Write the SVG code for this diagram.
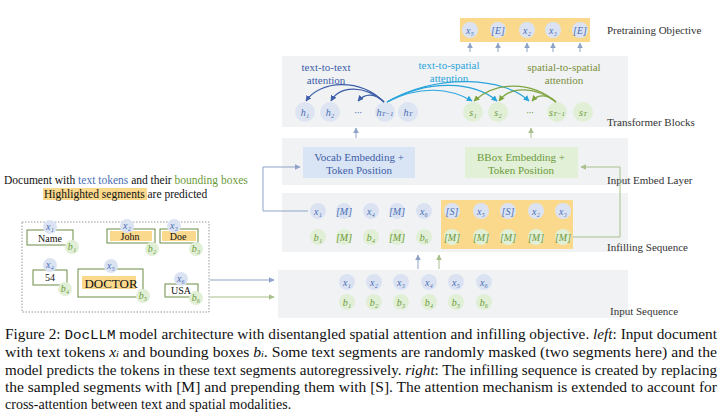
<svg xmlns="http://www.w3.org/2000/svg" width="720" height="415" viewBox="0 0 720 415" font-family="'Liberation Serif', 'Times New Roman', serif">
<style>
text{font-family:'Liberation Serif','Times New Roman',serif;}
.p{fill:#f1f2f4}
.lb{font-size:11px;fill:#333}
.t{font-size:10px;fill:#4a6fb5;font-style:italic;text-anchor:middle}
.g{font-size:10px;fill:#6c9a3a;font-style:italic;text-anchor:middle}
.cb{fill:#dbe3f3}
.cg{fill:#e1efd6}
.bx{fill:#fff;stroke:#6f8c45;stroke-width:1}
.cap{font-size:14px;fill:#111}
</style>
<defs>
<marker id="ab" viewBox="0 0 10 10" refX="9" refY="5" markerWidth="6" markerHeight="6" orient="auto"><path d="M0,0L10,5L0,10z" fill="#8fa3c8"/></marker>
<marker id="ag" viewBox="0 0 10 10" refX="9" refY="5" markerWidth="6" markerHeight="6" orient="auto"><path d="M0,0L10,5L0,10z" fill="#a9bf8c"/></marker>
<marker id="ad" viewBox="0 0 10 10" refX="9" refY="5" markerWidth="5" markerHeight="5" orient="auto"><path d="M0,0L10,5L0,10z" fill="#3e5fa8"/></marker>
<marker id="ac" viewBox="0 0 10 10" refX="9" refY="5" markerWidth="5" markerHeight="5" orient="auto"><path d="M0,0L10,5L0,10z" fill="#2aa5dc"/></marker>
<marker id="ao" viewBox="0 0 10 10" refX="9" refY="5" markerWidth="5" markerHeight="5" orient="auto"><path d="M0,0L10,5L0,10z" fill="#7fa541"/></marker>
</defs>
<rect width="720" height="415" fill="#fff"/>

<g id="panels">
<rect class="p" x="282" y="56" width="346" height="71"/>
<rect class="p" x="282" y="138" width="346" height="47"/>
<rect class="p" x="282" y="193" width="346" height="59"/>
<rect class="p" x="278" y="270" width="350" height="48"/>
<text class="lb" x="607" y="34">Pretraining Objective</text>
<text class="lb" x="607" y="126">Transformer Blocks</text>
<text class="lb" x="607" y="184">Input Embed Layer</text>
<text class="lb" x="607" y="251">Infilling Sequence</text>
<text class="lb" x="610" y="315">Input Sequence</text>
</g>

<g id="pretrain">
<rect x="460" y="18" width="130" height="24" fill="#fbd98c"/>
<circle class="cb" cx="470" cy="30" r="8"/><circle class="cb" cx="498" cy="30" r="8"/><circle class="cb" cx="527" cy="30" r="8"/><circle class="cb" cx="553" cy="30" r="8"/><circle class="cb" cx="580" cy="30" r="8"/>
<text class="t" x="470" y="34">x₅</text><text class="t" x="498" y="34">[E]</text><text class="t" x="527" y="34">x₂</text><text class="t" x="553" y="34">x₃</text><text class="t" x="580" y="34">[E]</text>
</g>

<g id="transformer">
<g fill="#dde4f2"><circle cx="305" cy="112" r="10"/><circle cx="330" cy="112" r="10"/><circle cx="385" cy="112" r="10"/><circle cx="408" cy="112" r="10"/></g>
<g fill="#e1efd6"><circle cx="473" cy="112" r="10"/><circle cx="498" cy="112" r="10"/><circle cx="557" cy="112" r="10"/><circle cx="583" cy="112" r="10"/></g>
<text class="t" x="305" y="116">h₁</text><text class="t" x="330" y="116">h₂</text><text class="t" x="358" y="116">···</text><text class="t" x="385" y="116">h<tspan font-size="7">T−1</tspan></text><text class="t" x="408" y="116">h<tspan font-size="7">T</tspan></text>
<text class="g" x="473" y="116">s₁</text><text class="g" x="498" y="116">s₂</text><text class="g" x="530" y="116">···</text><text class="g" x="557" y="116">s<tspan font-size="7">T−1</tspan></text><text class="g" x="583" y="116">s<tspan font-size="7">T</tspan></text>
<text x="326" y="71" font-size="11" fill="#3e5fa8" text-anchor="middle">text-to-text</text>
<text x="326" y="84" font-size="11" fill="#3e5fa8" text-anchor="middle">attention</text>
<text x="449" y="69" font-size="11" fill="#2aa5dc" text-anchor="middle">text-to-spatial</text>
<text x="449" y="82" font-size="11" fill="#2aa5dc" text-anchor="middle">attention</text>
<text x="564" y="71" font-size="11" fill="#7a8f3c" text-anchor="middle">spatial-to-spatial</text>
<text x="564" y="84" font-size="11" fill="#7a8f3c" text-anchor="middle">attention</text>
</g>

<g id="embed">
<rect x="303" y="147" width="112" height="31" fill="#d9e4f4"/>
<text x="359" y="161" font-size="11" fill="#3e5fa8" text-anchor="middle">Vocab Embedding +</text>
<text x="359" y="174" font-size="11" fill="#3e5fa8" text-anchor="middle">Token Position</text>
<rect x="465" y="147" width="113" height="31" fill="#e2f0d8"/>
<text x="521" y="161" font-size="11" fill="#6c9a3a" text-anchor="middle">BBox Embedding +</text>
<text x="521" y="174" font-size="11" fill="#6c9a3a" text-anchor="middle">Token Position</text>
</g>

<g id="infilling">
<rect x="441" y="200" width="132" height="49" fill="#fbd98c"/>
<g class="cb"><circle cx="318" cy="211" r="8"/><circle cx="344" cy="211" r="8"/><circle cx="371" cy="211" r="8"/><circle cx="397" cy="211" r="8"/><circle cx="424" cy="211" r="8"/><circle cx="452" cy="211" r="8"/><circle cx="481" cy="211" r="8"/><circle cx="508" cy="211" r="8"/><circle cx="536" cy="211" r="8"/><circle cx="563" cy="211" r="8"/></g>
<g class="cg"><circle cx="318" cy="237" r="8"/><circle cx="344" cy="237" r="8"/><circle cx="371" cy="237" r="8"/><circle cx="397" cy="237" r="8"/><circle cx="424" cy="237" r="8"/><circle cx="452" cy="237" r="8"/><circle cx="481" cy="237" r="8"/><circle cx="508" cy="237" r="8"/><circle cx="536" cy="237" r="8"/><circle cx="563" cy="237" r="8"/></g>
<text class="t" x="318" y="215">x₁</text><text class="t" x="344" y="215">[M]</text><text class="t" x="371" y="215">x₄</text><text class="t" x="397" y="215">[M]</text><text class="t" x="424" y="215">x₆</text><text class="t" x="452" y="215">[S]</text><text class="t" x="481" y="215">x₅</text><text class="t" x="508" y="215">[S]</text><text class="t" x="536" y="215">x₂</text><text class="t" x="563" y="215">x₃</text>
<text class="g" x="318" y="241">b₁</text><text class="g" x="344" y="241">[M]</text><text class="g" x="371" y="241">b₄</text><text class="g" x="397" y="241">[M]</text><text class="g" x="424" y="241">b₆</text><text class="g" x="452" y="241">[M]</text><text class="g" x="481" y="241">[M]</text><text class="g" x="508" y="241">[M]</text><text class="g" x="536" y="241">[M]</text><text class="g" x="563" y="241">[M]</text>
</g>

<g id="inputseq">
<g class="cb"><circle cx="347" cy="282" r="8"/><circle cx="374" cy="282" r="8"/><circle cx="401" cy="282" r="8"/><circle cx="429" cy="282" r="8"/><circle cx="456" cy="282" r="8"/><circle cx="484" cy="282" r="8"/></g>
<g class="cg"><circle cx="347" cy="302" r="8"/><circle cx="374" cy="302" r="8"/><circle cx="401" cy="302" r="8"/><circle cx="429" cy="302" r="8"/><circle cx="456" cy="302" r="8"/><circle cx="484" cy="302" r="8"/></g>
<text class="t" x="347" y="286">x₁</text><text class="t" x="374" y="286">x₂</text><text class="t" x="401" y="286">x₃</text><text class="t" x="429" y="286">x₄</text><text class="t" x="456" y="286">x₅</text><text class="t" x="484" y="286">x₆</text>
<text class="g" x="347" y="306">b₁</text><text class="g" x="374" y="306">b₂</text><text class="g" x="401" y="306">b₃</text><text class="g" x="429" y="306">b₄</text><text class="g" x="456" y="306">b₅</text><text class="g" x="484" y="306">b₆</text>
</g>

<g id="document">
<text x="4" y="184" font-size="11.5" fill="#111">Document with <tspan fill="#4a6fb5">text tokens</tspan> and their <tspan fill="#6c9a3a">bounding boxes</tspan></text>
<rect x="43" y="188" width="104" height="12" fill="#fbd98c"/>
<text x="44" y="198" font-size="11.5" fill="#111">Highlighted segments are predicted</text>
<rect x="22" y="222" width="187" height="90" fill="#fff" stroke="#999" stroke-dasharray="1.5,1.5"/>
<rect class="bx" x="27" y="230" width="46" height="15"/>
<rect class="bx" x="107" y="229" width="48" height="14"/><rect x="110" y="231" width="42" height="10" fill="#fbd98c"/>
<rect class="bx" x="160" y="229" width="38" height="14"/><rect x="162" y="231" width="34" height="10" fill="#fbd98c"/>
<rect class="bx" x="33" y="270" width="34" height="15"/>
<rect class="bx" x="78" y="269" width="65" height="28"/><rect x="82" y="276" width="54" height="13" fill="#fbd98c"/>
<rect class="bx" x="165" y="284" width="33" height="13"/>
<g font-size="10" fill="#111" text-anchor="middle"><text x="50" y="242">Name</text><text x="130" y="240">John</text><text x="178" y="240">Doe</text><text x="50" y="281">54</text><text x="181" y="294">USA</text></g>
<text x="111" y="288" font-size="13" fill="#111" text-anchor="middle">DOCTOR</text>
<g class="cb"><circle cx="50" cy="227" r="7"/><circle cx="127" cy="226" r="7"/><circle cx="174" cy="226" r="7"/><circle cx="50" cy="265" r="7"/><circle cx="111" cy="266" r="7"/><circle cx="181" cy="279" r="7"/></g>
<g class="cg"><circle cx="72" cy="247" r="7"/><circle cx="152" cy="249" r="7"/><circle cx="196" cy="249" r="7"/><circle cx="65" cy="289" r="7"/><circle cx="143" cy="296" r="7"/><circle cx="196" cy="298" r="7"/></g>
<g class="t" font-size="9"><text x="50" y="230">x₁</text><text x="127" y="229">x₂</text><text x="174" y="229">x₃</text><text x="50" y="268">x₄</text><text x="111" y="269">x₅</text><text x="181" y="282">x₆</text></g>
<g class="g" font-size="9"><text x="72" y="250">b₁</text><text x="152" y="252">b₂</text><text x="196" y="252">b₃</text><text x="65" y="292">b₄</text><text x="143" y="299">b₅</text><text x="196" y="301">b₆</text></g>
</g>

<g id="connectors">
<g stroke="#8fa3c8" fill="none"><line x1="470" y1="52" x2="470" y2="43" marker-end="url(#ab)"/><line x1="498" y1="52" x2="498" y2="43" marker-end="url(#ab)"/><line x1="527" y1="52" x2="527" y2="43" marker-end="url(#ab)"/><line x1="553" y1="52" x2="553" y2="43" marker-end="url(#ab)"/><line x1="580" y1="52" x2="580" y2="43" marker-end="url(#ab)"/>
<line x1="356" y1="138" x2="356" y2="128" marker-end="url(#ab)"/>
<line x1="418" y1="269" x2="418" y2="255" marker-end="url(#ab)"/>
<polyline points="308,211 263,211 263,167 300,167" marker-end="url(#ab)"/>
<line x1="210" y1="280" x2="274" y2="280" marker-end="url(#ab)"/>
</g>
<g stroke="#a9bf8c" fill="none"><line x1="531" y1="138" x2="531" y2="128" marker-end="url(#ag)"/>
<line x1="439" y1="269" x2="439" y2="255" marker-end="url(#ag)"/>
<polyline points="573,237 620,237 620,167 581,167" marker-end="url(#ag)"/>
<line x1="210" y1="297" x2="274" y2="297" marker-end="url(#ag)"/>
</g>
<g stroke="#3e5fa8" stroke-width="1.2" fill="none">
<path d="M384,102 C360,78 320,80 306,101" marker-end="url(#ad)"/>
<path d="M384,102 C365,85 340,85 331,101" marker-end="url(#ad)"/>
<path d="M384,102 C375,93 365,93 358,101" marker-end="url(#ad)"/>
</g>
<g stroke="#2aa5dc" stroke-width="1.2" fill="none">
<path d="M387,102 C420,85 450,88 472,101" marker-end="url(#ac)"/>
<path d="M387,102 C430,78 475,82 497,101" marker-end="url(#ac)"/>
<path d="M387,102 C440,72 505,78 529,101" marker-end="url(#ac)"/>
</g>
<g stroke="#7fa541" stroke-width="1.2" fill="none">
<path d="M556,102 C530,80 495,82 474,101" marker-end="url(#ao)"/>
<path d="M556,102 C535,86 510,86 499,101" marker-end="url(#ao)"/>
<path d="M556,102 C548,94 538,94 532,101" marker-end="url(#ao)"/>
</g>
</g>

<g id="caption" class="cap">
<text x="5" y="339" textLength="712" lengthAdjust="spacingAndGlyphs">Figure 2: <tspan font-family="'Liberation Mono',monospace" font-size="13">DocLLM</tspan> model architecture with disentangled spatial attention and infilling objective. <tspan font-style="italic">left</tspan>: Input document</text>
<text x="5" y="357" textLength="712" lengthAdjust="spacingAndGlyphs">with text tokens <tspan font-style="italic">x</tspan><tspan font-size="9" font-style="italic">i</tspan> and bounding boxes <tspan font-style="italic">b</tspan><tspan font-size="9" font-style="italic">i</tspan>. Some text segments are randomly masked (two segments here) and the</text>
<text x="5" y="375" textLength="712" lengthAdjust="spacingAndGlyphs">model predicts the tokens in these text segments autoregressively. <tspan font-style="italic">right</tspan>: The infilling sequence is created by replacing</text>
<text x="5" y="392" textLength="712" lengthAdjust="spacingAndGlyphs">the sampled segments with [M] and prepending them with [S]. The attention mechanism is extended to account for</text>
<text x="5" y="409">cross-attention between text and spatial modalities.</text>
</g>
</svg>
